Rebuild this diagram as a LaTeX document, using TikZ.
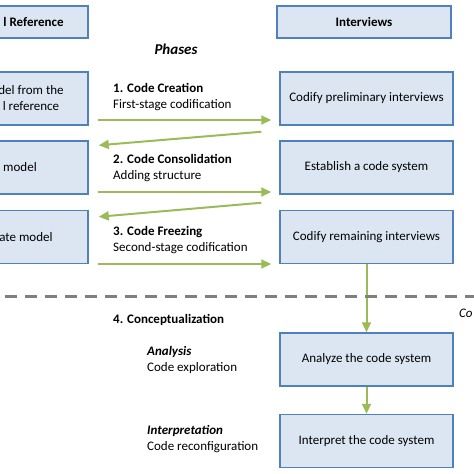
\documentclass[tikz,border=0pt]{standalone}
\usepackage{fontspec}
\setmainfont{Carlito}
\usetikzlibrary{positioning, arrows.meta, calc}
\definecolor{boxfill}{HTML}{DCE6F2}
\definecolor{boxline}{HTML}{4F81BD}
\definecolor{flowgreen}{HTML}{9BBB59}
\definecolor{cutgray}{HTML}{7F7F7F}

\begin{document}
\begin{tikzpicture}[
  x=1pt, y=-1pt,
  >={Triangle[length=10pt, width=9pt]},
  every node/.style={font=\fontsize{13}{16}\selectfont}
]
\tikzset{
  box/.style   ={draw=boxline, fill=boxfill, line width=1.5pt,
                 align=center, inner sep=2pt},
  head/.style  ={box, minimum height=32pt,
                 font=\fontsize{13}{16}\selectfont\bfseries},
  task/.style  ={box, minimum height=53pt},
  work/.style  ={task, minimum width=173pt},
  phase/.style ={align=left, anchor=west, inner sep=0pt},
  flow/.style  ={->, draw=flowgreen, line width=2pt},
  cut/.style   ={draw=cutgray, line width=3pt, dash pattern=on 12pt off 8pt}
}

\useasboundingbox (0,0) rectangle (474,474);
\clip (0,0) rectangle (474,474);

%% ----- Left column (cut at the frame) -----
\node[head, minimum width=109pt] (refhead) at (33.5,22) {l Reference};
\node[task, minimum width=114pt] (ref1) at (31,98.5)
  {del from the\\l reference};
\node[task, minimum width=136pt] (ref2) at (20,167.5) {model};
\node[task, minimum width=124pt] (ref3) at (26,237) {ate model};

%% ----- Right column: interviews -----
\node[head, minimum width=174pt] (inthead) at (364,22) {Interviews};
\node[work] (int1) at (366.5,98.5) {Codify preliminary interviews};
\node[work] (int2) at (366.5,167.5) {Establish a code system};
\node[work] (int3) at (366.5,237) {Codify remaining interviews};
\node[work] (int4) at (366.5,359.5) {Analyze the code system};
\node[work, below=27pt of int4] (int5) {Interpret the code system};

%% ----- Phase labels -----
\node[font=\fontsize{15}{18}\selectfont\bfseries\itshape] (phases)
  at (176,49) {Phases};
\node[phase] (ph1) at (113,97)
  {\textbf{1. Code Creation}\\First-stage codification};
\node[phase] (ph2) at (113,168)
  {\textbf{2. Code Consolidation}\\Adding structure};
\node[phase] (ph3) at (113,240)
  {\textbf{3. Code Freezing}\\Second-stage codification};
\node[phase] (ph4) at (113,320) {\textbf{4. Conceptualization}};
\node[phase] (ana) at (147,359.5)
  {\textbf{\itshape Analysis}\\Code exploration};
\node[phase] (intp) at (147,439)
  {\textbf{\itshape Interpretation}\\Code reconfiguration};
\node[phase, font=\fontsize{13}{16}\selectfont\itshape] (conc)
  at (459,313) {Co};

%% ----- Back and forth between the columns -----
\coordinate (go1) at ($(ref1.east)+(9,21.5)$);
\coordinate (go2) at ($(ref2.east)+(9,24.5)$);
\coordinate (go3) at ($(ref3.east)+(9,27)$);
\draw[flow] (go1) -- ($(go1 -| int1.west)+(-8,0)$);
\draw[flow] (go2) -- ($(go2 -| int2.west)+(-8,0)$);
\draw[flow] (go3) -- ($(go3 -| int3.west)+(-8,0)$);
\draw[flow] ($(int1.south west)+(-18,6)$) -- ($(ref2.north east)+(10,5)$);
\draw[flow] ($(int2.south west)+(-18,8)$) -- ($(ref3.north east)+(10,7)$);

%% ----- Down the interview column -----
\draw[flow] (int3) -- (int4);
\draw[flow] (int4) -- (int5);

%% ----- Dashed divider -----
\coordinate (cutL) at (5,296);
\coordinate (cutR) at (474,296);
\draw[cut] (cutL) -- (cutR);

\end{tikzpicture}
\end{document}
